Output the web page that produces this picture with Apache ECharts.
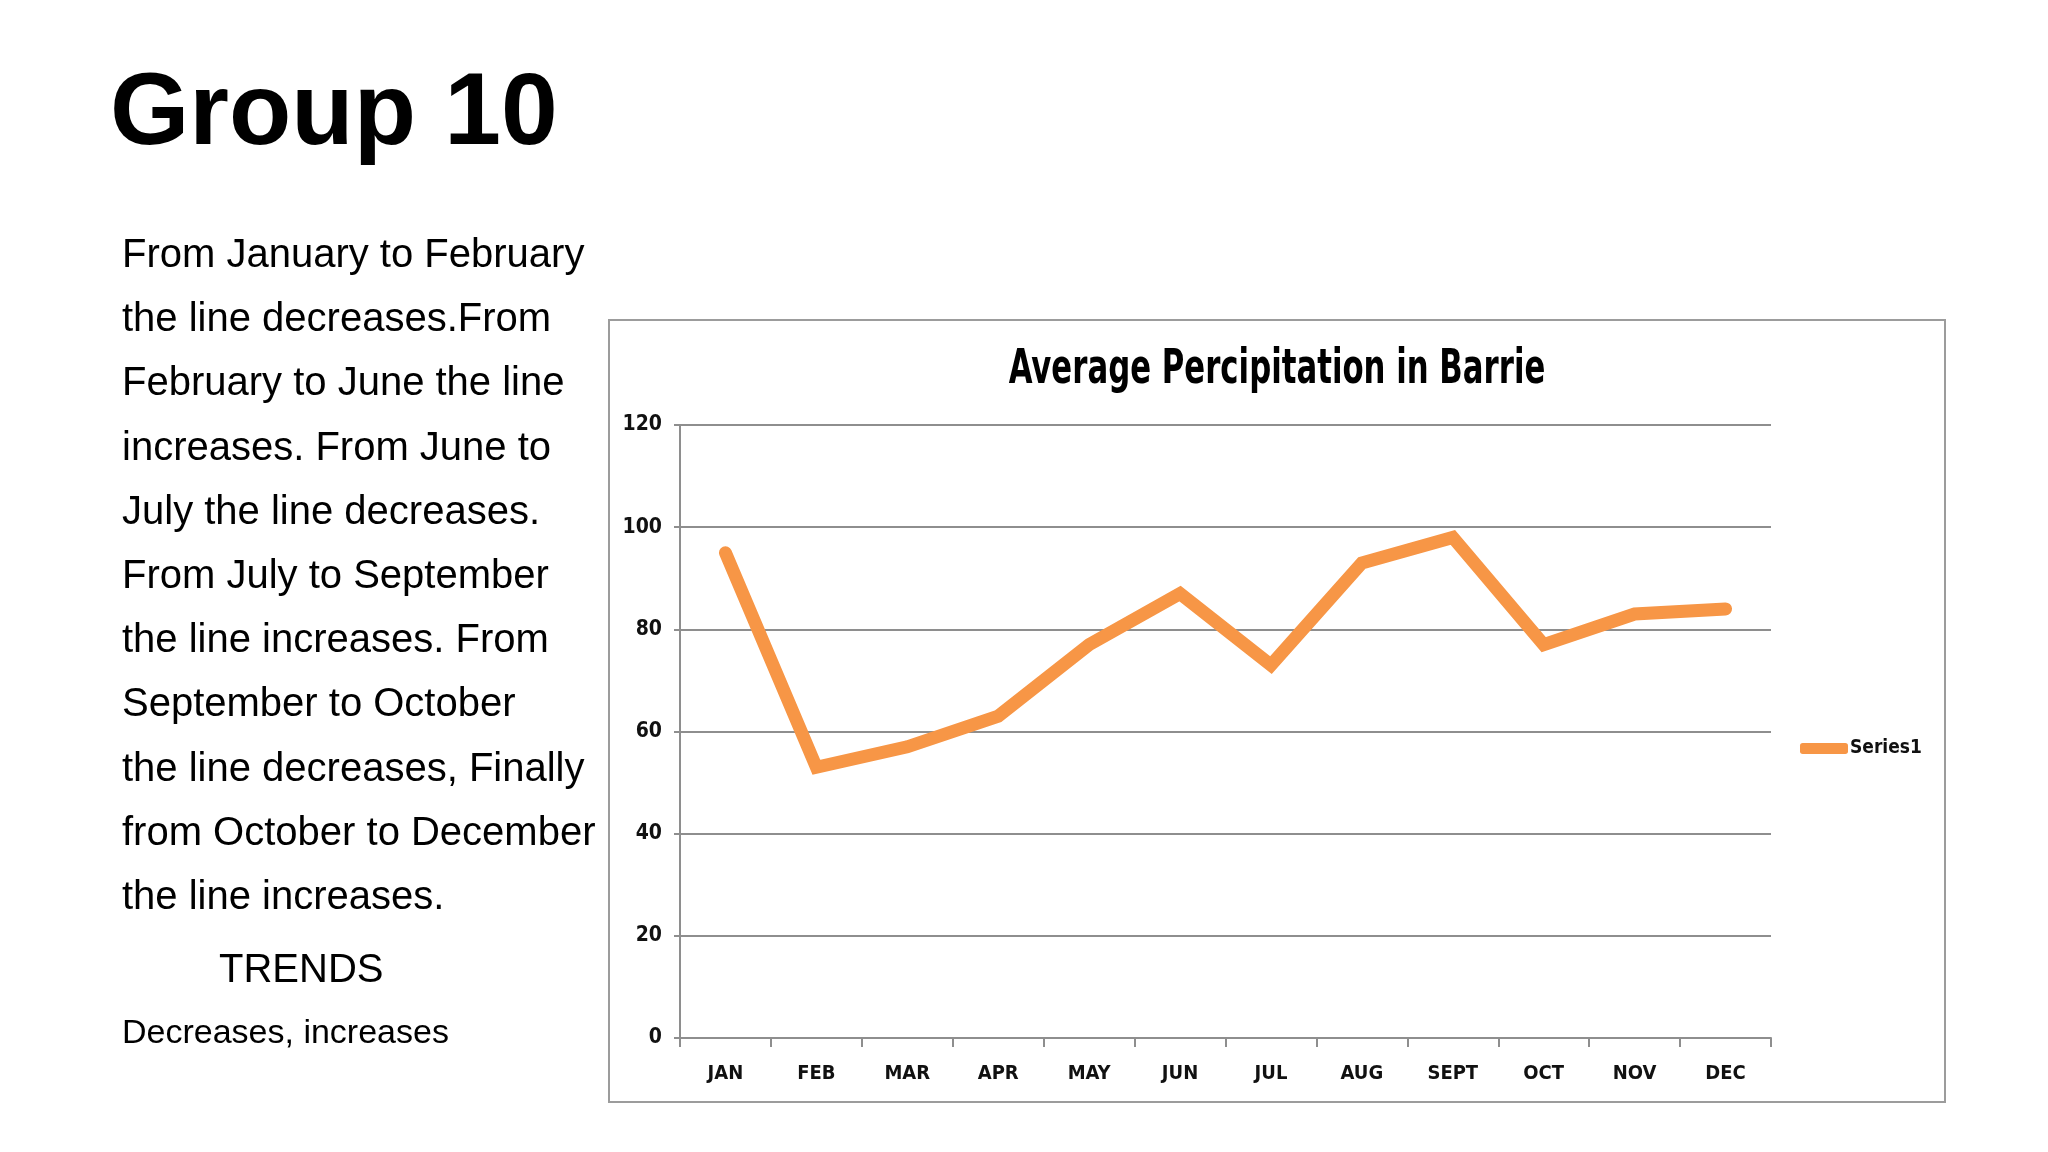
<!DOCTYPE html>
<html>
<head>
<meta charset="utf-8">
<title>Group 10</title>
<script src="https://cdn.jsdelivr.net/npm/echarts@6/dist/echarts.min.js"></script>
<style>
  html, body { margin: 0; padding: 0; background: #ffffff; }
  #chart { width: 2048px; height: 1152px; }
</style>
</head>
<body>
<div id="chart"></div>
<script>
// ---- data ----
const months = ['JAN', 'FEB', 'MAR', 'APR', 'MAY', 'JUN', 'JUL', 'AUG', 'SEPT', 'OCT', 'NOV', 'DEC'];
const series1 = [95, 53, 57, 63, 77, 87, 73, 93, 98, 77, 83, 84];
const yTicks = [0, 20, 40, 60, 80, 100, 120];
const seriesName = 'Series1';
const chartTitle = 'Average Percipitation in Barrie';
const pageTitle = 'Group 10';
const bodyLines = [
  'From January to February',
  'the line decreases.From',
  'February to June the line',
  'increases. From June to',
  'July the line decreases.',
  'From July to September',
  'the line increases. From',
  'September to October',
  'the line decreases, Finally',
  'from October to December',
  'the line increases.'
];
const trendsHeading = 'TRENDS';
const trendsText = 'Decreases, increases';

// ---- styles ----
const narrow = "'Liberation Sans Narrow', 'DejaVu Sans Condensed', 'Liberation Sans', sans-serif";
const sans = "'Liberation Sans', Arial, sans-serif";
const gridGray = '#8e8e8e';
const orange = '#F79646';

const graphics = [
  {
    type: 'rect', silent: true,
    shape: { x: 609, y: 320, width: 1336, height: 782 },
    style: { fill: 'none', stroke: '#9c9c9c', lineWidth: 2 }
  },
  {
    type: 'text', silent: true,
    x: 110, y: 116,
    style: { text: pageTitle, x: 0, y: 0, fill: '#000', font: 'bold 102px ' + sans, textAlign: 'left', verticalAlign: 'middle' }
  },
  {
    type: 'text', silent: true,
    x: 1277, y: 371, scaleX: 0.76, scaleY: 1.05,
    style: { text: chartTitle, x: 0, y: 0, fill: '#000', font: 'bold 45px ' + narrow, textAlign: 'center', verticalAlign: 'middle' }
  },
  {
    type: 'text', silent: true,
    x: 219, y: 971,
    style: { text: trendsHeading, x: 0, y: 0, fill: '#000', font: '40px ' + sans, textAlign: 'left', verticalAlign: 'middle' }
  },
  {
    type: 'text', silent: true,
    x: 122, y: 1034,
    style: { text: trendsText, x: 0, y: 0, fill: '#000', font: '34px ' + sans, textAlign: 'left', verticalAlign: 'middle' }
  }
];
bodyLines.forEach(function (line, i) {
  graphics.push({
    type: 'text', silent: true,
    x: 122, y: 256 + i * 64.2,
    style: { text: line, x: 0, y: 0, fill: '#000', font: '40px ' + sans, textAlign: 'left', verticalAlign: 'middle' }
  });
});

const chart = echarts.init(document.getElementById('chart'), null, { width: 2048, height: 1152 });
chart.setOption({
  backgroundColor: '#ffffff',
  animation: false,
  grid: { left: 680, right: 277, top: 425, bottom: 114, containLabel: false },
  legend: {
    data: [{ name: seriesName, icon: 'roundRect' }],
    left: 1800, top: 739, padding: 0,
    itemWidth: 48, itemHeight: 11, itemGap: 0,
    textStyle: { fontFamily: narrow, fontWeight: 'bold', fontSize: 19, color: '#111', padding: [0, 0, 0, -3] }
  },
  xAxis: {
    type: 'category',
    data: months,
    boundaryGap: true,
    axisLine: { show: true, lineStyle: { color: gridGray, width: 2 } },
    axisTick: { show: true, alignWithLabel: false, length: 9, lineStyle: { color: gridGray, width: 2 } },
    axisLabel: { margin: 26, fontFamily: narrow, fontWeight: 'bold', fontSize: 20, color: '#111' },
    splitLine: { show: false }
  },
  yAxis: {
    type: 'value',
    min: yTicks[0], max: yTicks[yTicks.length - 1], interval: yTicks[1] - yTicks[0],
    axisLine: { show: true, lineStyle: { color: gridGray, width: 2 } },
    axisTick: { show: true, length: 6, lineStyle: { color: gridGray, width: 2 } },
    axisLabel: { margin: 18, fontFamily: narrow, fontWeight: 'bold', fontSize: 21, color: '#111' },
    splitLine: { show: true, lineStyle: { color: gridGray, width: 2 } }
  },
  series: [{
    name: seriesName,
    type: 'line',
    data: series1,
    symbol: 'none',
    smooth: false,
    itemStyle: { color: orange },
    lineStyle: { color: orange, width: 13, cap: 'round', join: 'miter' }
  }],
  graphic: graphics
});
</script>
</body>
</html>
